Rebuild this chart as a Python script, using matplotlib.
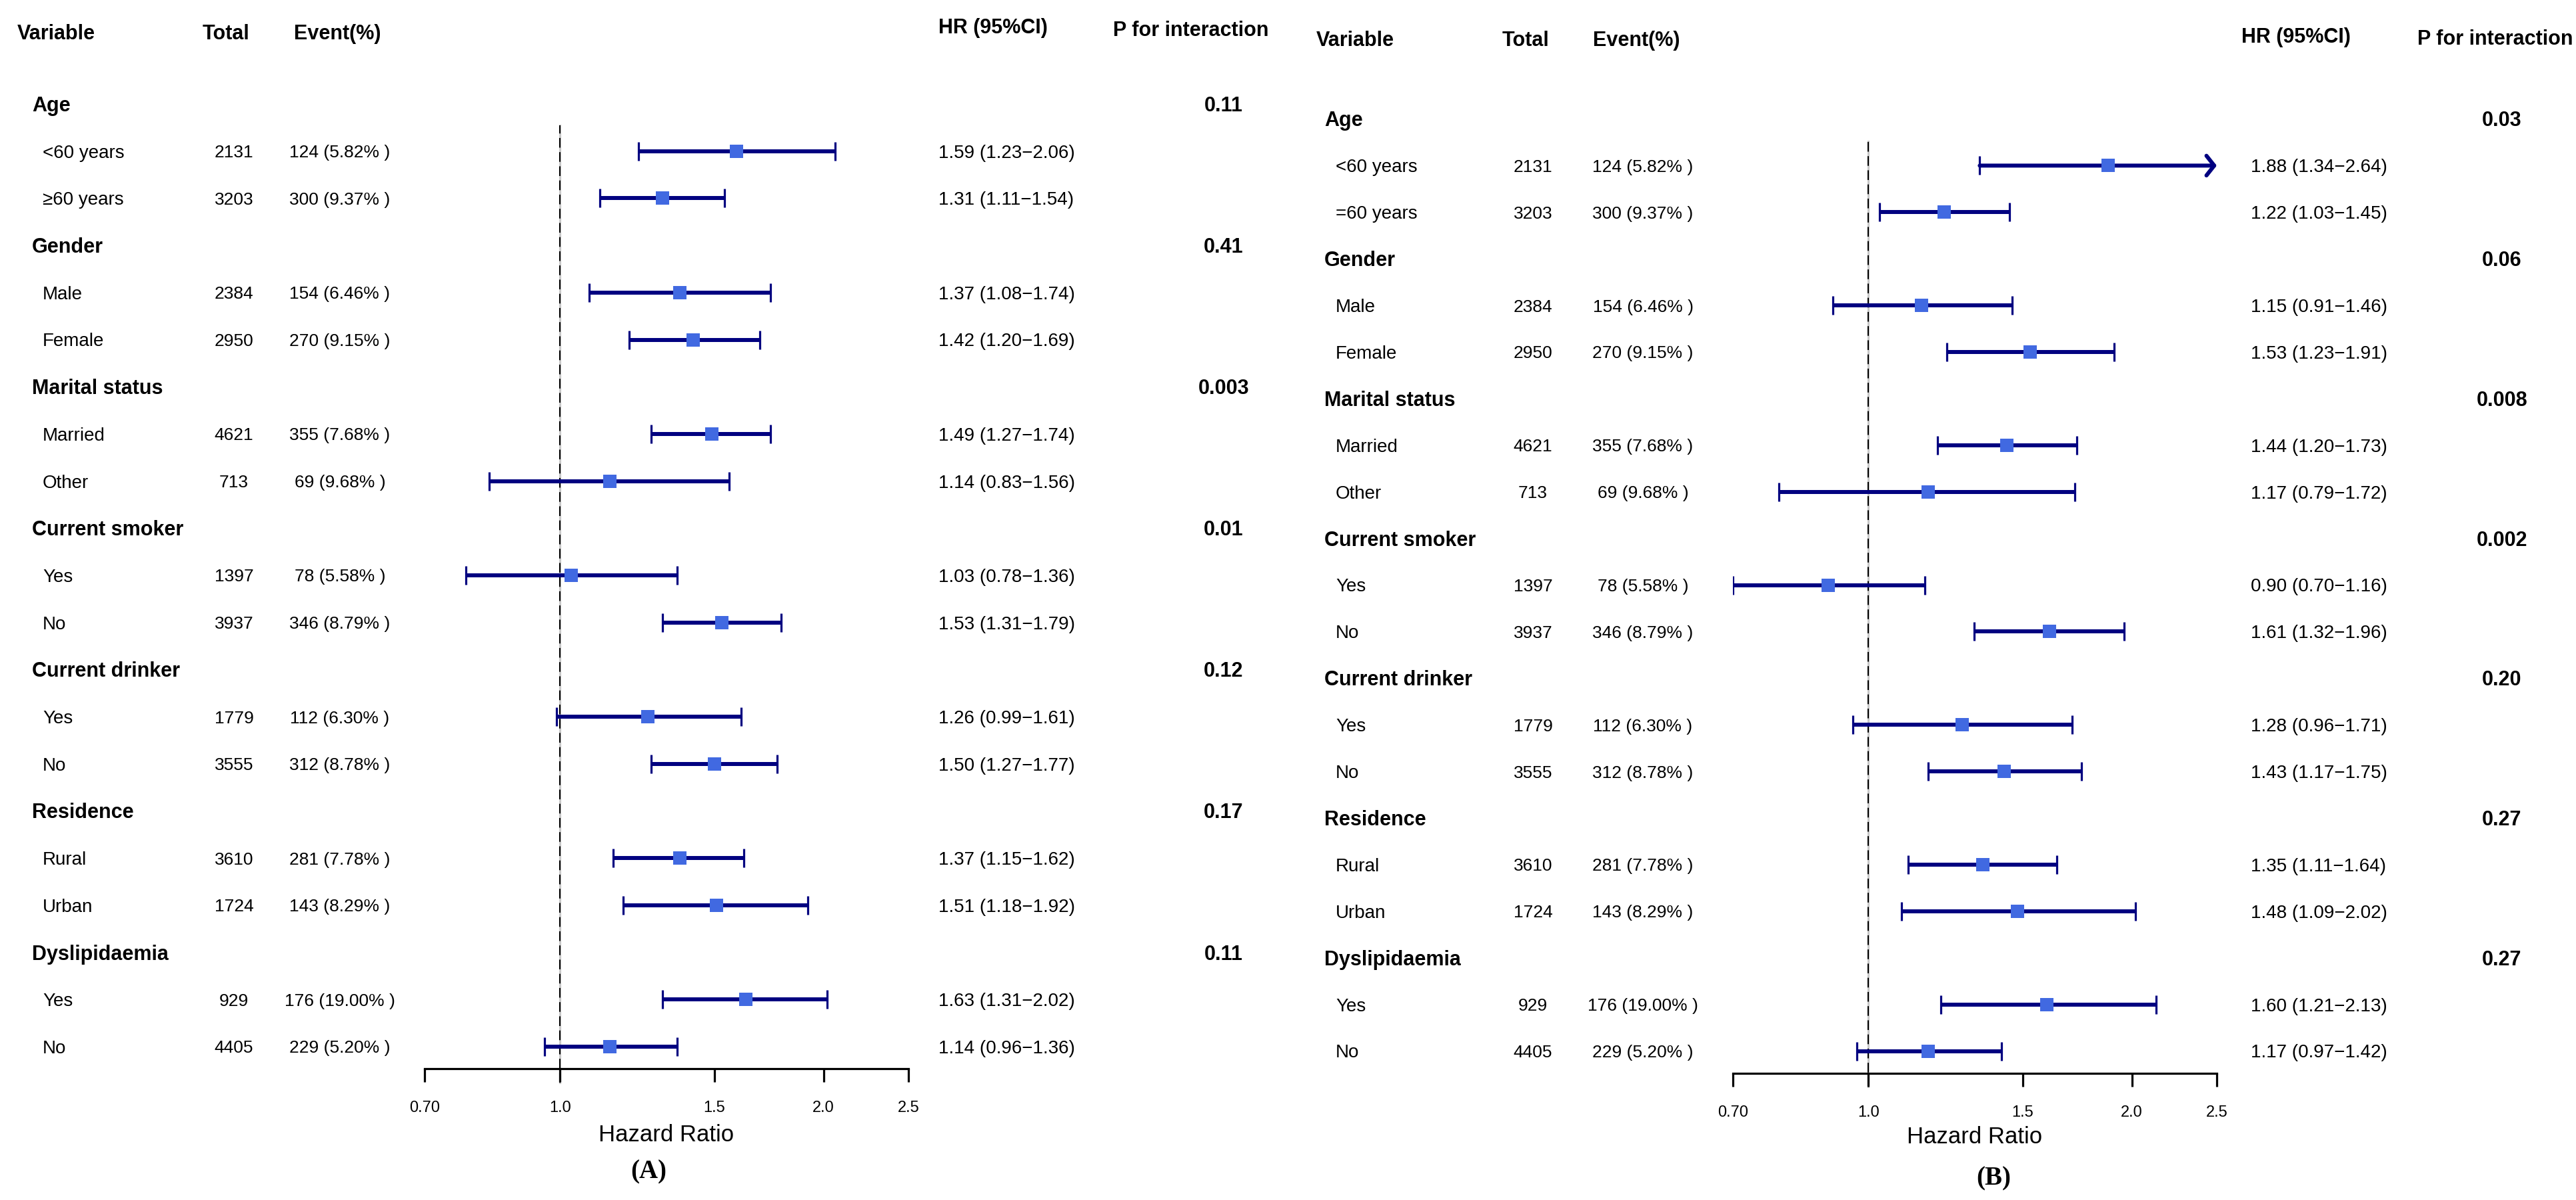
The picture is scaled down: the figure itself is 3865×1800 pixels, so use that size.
import matplotlib
matplotlib.use("Agg")
import matplotlib.pyplot as plt
from matplotlib.ticker import NullLocator, FixedLocator, FixedFormatter

plt.rcParams['font.family'] = ['Liberation Sans', 'DejaVu Sans']

# ---------------- data ----------------
groups = ["Age", "Gender", "Marital status", "Current smoker",
          "Current drinker", "Residence", "Dyslipidaemia"]
sub_a = ["<60 years", "≥60 years", "Male", "Female", "Married", "Other",
         "Yes", "No", "Yes", "No", "Rural", "Urban", "Yes", "No"]
sub_b = ["<60 years", "=60 years", "Male", "Female", "Married", "Other",
         "Yes", "No", "Yes", "No", "Rural", "Urban", "Yes", "No"]
totals = [2131, 3203, 2384, 2950, 4621, 713, 1397, 3937, 1779, 3555, 3610, 1724, 929, 4405]
event_n = [124, 300, 154, 270, 355, 69, 78, 346, 112, 312, 281, 143, 176, 229]
event_pct = [5.82, 9.37, 6.46, 9.15, 7.68, 9.68, 5.58, 8.79, 6.30, 8.78, 7.78, 8.29, 19.00, 5.20]

hr_a = [1.59, 1.31, 1.37, 1.42, 1.49, 1.14, 1.03, 1.53, 1.26, 1.50, 1.37, 1.51, 1.63, 1.14]
lo_a = [1.23, 1.11, 1.08, 1.20, 1.27, 0.83, 0.78, 1.31, 0.99, 1.27, 1.15, 1.18, 1.31, 0.96]
hi_a = [2.06, 1.54, 1.74, 1.69, 1.74, 1.56, 1.36, 1.79, 1.61, 1.77, 1.62, 1.92, 2.02, 1.36]
p_a = ["0.11", "0.41", "0.003", "0.01", "0.12", "0.17", "0.11"]

hr_b = [1.88, 1.22, 1.15, 1.53, 1.44, 1.17, 0.90, 1.61, 1.28, 1.43, 1.35, 1.48, 1.60, 1.17]
lo_b = [1.34, 1.03, 0.91, 1.23, 1.20, 0.79, 0.70, 1.32, 0.96, 1.17, 1.11, 1.09, 1.21, 0.97]
hi_b = [2.64, 1.45, 1.46, 1.91, 1.73, 1.72, 1.16, 1.96, 1.71, 1.75, 1.64, 2.02, 2.13, 1.42]
p_b = ["0.03", "0.06", "0.008", "0.002", "0.20", "0.27", "0.27"]

xticks = [0.70, 1.0, 1.5, 2.0, 2.5]
xtick_labels = ["0.70", "1.0", "1.5", "2.0", "2.5"]

# ---------------- layout ----------------
W, H, DPI = 3866, 1800, 100
NAVY = "#000080"
BLUE = "#4169E1"
PX = DPI / 72.0  # pixels per point

fig = plt.figure(figsize=(W / DPI, H / DPI), dpi=DPI)
fig.patch.set_facecolor("white")


def ftext(x, y, s, size, weight="normal", ha="left", center=True, **kw):
    # y given as vertical centre of capitals (pixels from top) -> baseline
    yb = y + (0.358 * size * PX if center else 0)
    fig.text(x / W, 1 - yb / H, s, fontsize=size, fontweight=weight,
             ha=ha, va="baseline", color="black", **kw)


def panel(L, sub, hr, lo, hi, pv):
    row0, step = L["row0"], L["step"]
    ax = fig.add_axes([L["ax_left"] / W, 1 - L["ax_bottom"] / H,
                       (L["ax_right"] - L["ax_left"]) / W,
                       (L["ax_bottom"] - L["ax_top"]) / H])
    ax.set_xscale("log")
    ax.set_xlim(xticks[0], xticks[-1])
    ax.set_ylim((L["ax_bottom"] - row0) / step, (L["ax_top"] - row0) / step)
    for s in ["left", "right", "top"]:
        ax.spines[s].set_visible(False)
    ax.spines["bottom"].set_linewidth(2.3)
    ax.set_yticks([])
    ax.xaxis.set_major_locator(FixedLocator(xticks))
    ax.xaxis.set_major_formatter(FixedFormatter(xtick_labels))
    ax.xaxis.set_minor_locator(NullLocator())
    ax.tick_params(axis="x", which="major", length=14.5, width=2.3,
                   labelsize=17, pad=20)
    ax.patch.set_alpha(0)

    # reference line at HR = 1
    ax.axvline(1.0, ymin=-0.0145, ymax=1, color="#c8c8c8", lw=2.2,
               clip_on=False, zorder=1)
    ax.axvline(1.0, ymin=-0.0145, ymax=1, color="black", lw=1.5,
               dashes=(7, 3.2), clip_on=False, zorder=1.5)

    xmax = xticks[-1]
    rows = []
    for g in range(len(groups)):
        rows += [3 * g + 1, 3 * g + 2]
    for i, r in enumerate(rows):
        if hi[i] > xmax:
            ax.annotate("", xy=(xmax, r), xytext=(lo[i], r),
                        arrowprops=dict(arrowstyle="->,head_length=0.3,head_width=0.38",
                                        color=NAVY, lw=4.3, mutation_scale=28,
                                        shrinkA=0, shrinkB=0), zorder=2)
            ax.plot([lo[i]], [r], marker="|", ms=20, mew=2.3, color=NAVY,
                    ls="none", zorder=2)
        else:
            ax.hlines(r, lo[i], hi[i], color=NAVY, lw=4.3, zorder=2)
            ax.plot([lo[i], hi[i]], [r, r], marker="|", ms=20, mew=2.3,
                    color=NAVY, ls="none", zorder=2)
    ax.plot(hr, rows, marker="s", ms=14, mew=0, color=BLUE, ls="none", zorder=3)

    # headers
    ftext(L["x_var"], L["y_hdr"], "Variable", 22, "bold", center=False)
    ftext(L["x_total_hdr"], L["y_hdr"], "Total", 22, "bold", ha="center", center=False)
    ftext(L["x_event_hdr"], L["y_hdr"], "Event(%)", 22, "bold", ha="center", center=False)
    ftext(L["x_hr_hdr"], L["y_hr_hdr"], "HR (95%CI)", 22, "bold", center=False)
    ftext(L["x_p_hdr"], L["y_p_hdr"], "P for interaction", 22, "bold", center=False)

    for g in range(len(groups)):
        yg = row0 + 3 * g * step
        ftext(L["x_group"], yg, groups[g], 22, "bold")
        ftext(L["x_p"], yg, pv[g], 22, "bold", ha="center")
    for i, r in enumerate(rows):
        y = row0 + r * step
        ftext(L["x_sub"], y, sub[i], 20)
        ftext(L["x_total"], y, str(totals[i]), 19, ha="center")
        ftext(L["x_event"], y, f"{event_n[i]} ({event_pct[i]:.2f}% )", 19, ha="center")
        ftext(L["x_hr"], y, f"{hr[i]:.2f} ({lo[i]:.2f}\u2212{hi[i]:.2f})", 20)

    ftext(L["x_xlabel"], L["y_xlabel"], "Hazard Ratio", 25, ha="center", center=False)
    fig.text(L["x_letter"] / W, 1 - L["y_letter"] / H, L["letter"], fontsize=28,
             fontweight="bold", family=["Liberation Serif", "DejaVu Serif"],
             ha="center", va="baseline")
    return ax


LA = dict(ax_left=637, ax_right=1363, ax_top=188, ax_bottom=1603, row0=156, step=70.7,
          x_var=26, x_group=48, x_sub=64, x_total=351, x_total_hdr=339, x_event=510,
          x_event_hdr=506, x_hr=1408, x_hr_hdr=1408, x_p=1836, x_p_hdr=1670,
          y_hdr=59, y_hr_hdr=50, y_p_hdr=54, y_xlabel=1712, x_xlabel=1000,
          x_letter=973, y_letter=1767, letter="(A)")
LB = dict(ax_left=2600, ax_right=3326, ax_top=212, ax_bottom=1610, row0=178.5, step=69.9,
          x_var=1975, x_group=1987, x_sub=2004, x_total=2300, x_total_hdr=2289, x_event=2465,
          x_event_hdr=2455, x_hr=3377, x_hr_hdr=3363, x_p=3754, x_p_hdr=3627,
          y_hdr=69, y_hr_hdr=64, y_p_hdr=67, y_xlabel=1715, x_xlabel=2963,
          x_letter=2991, y_letter=1777, letter="(B)")

panel(LA, sub_a, hr_a, lo_a, hi_a, p_a)
panel(LB, sub_b, hr_b, lo_b, hi_b, p_b)

fig.savefig("out.png", dpi=DPI, facecolor="white")
